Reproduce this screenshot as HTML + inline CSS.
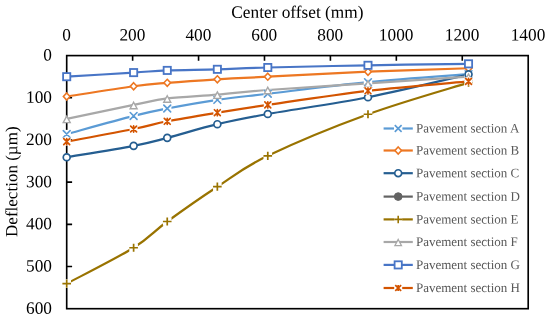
<!DOCTYPE html>
<html><head><meta charset="utf-8"><title>Deflection chart</title>
<style>html,body{margin:0;padding:0;background:#fff}body{width:550px;height:320px;overflow:hidden}</style></head>
<body>
<svg width="550" height="320" viewBox="0 0 550 320" style="display:block">
<rect width="550" height="320" fill="#fff"/>
<g stroke="#000" stroke-width="1.65" fill="none">
<rect x="66.7" y="55.6" width="461.5" height="253.1"/>
<path d="M132.63 55.6 v5.2 M198.56 55.6 v5.2 M264.49 55.6 v5.2 M330.41 55.6 v5.2 M396.34 55.6 v5.2 M462.27 55.6 v5.2 M66.7 97.78 h5.4 M66.7 139.97 h5.4 M66.7 182.15 h5.4 M66.7 224.33 h5.4 M66.7 266.52 h5.4" stroke-width="1.6"/>
</g>
<g fill="none" stroke-linecap="round" stroke-linejoin="round">
<path d="M66.7 134.06 C77.85 131.04 116.86 120.18 133.62 115.92 C150.37 111.67 153.29 111.21 167.24 108.54 C181.2 105.87 200.59 102.35 217.35 99.89 C234.1 97.43 242.67 96.73 267.78 93.78 C292.89 90.82 334.53 85.44 367.99 82.18 C401.45 78.91 451.78 75.5 468.53 74.16" stroke="#5B9BD5" stroke-width="2.2"/>
<path d="M66.7 96.52 C77.85 94.8 116.86 88.51 133.62 86.23 C150.37 83.94 153.29 83.96 167.24 82.81 C181.2 81.66 200.59 80.33 217.35 79.31 C234.1 78.29 242.67 77.96 267.78 76.69 C292.89 75.43 334.53 73.12 367.99 71.71 C401.45 70.31 451.78 68.83 468.53 68.25" stroke="#ED7722" stroke-width="2.2"/>
<path d="M66.7 157.26 C77.85 155.36 116.86 149.11 133.62 145.87 C150.37 142.64 153.29 141.47 167.24 137.86 C181.2 134.24 200.59 128.16 217.35 124.19 C234.1 120.22 242.67 118.52 267.78 114.02 C292.89 109.53 334.53 103.84 367.99 97.23 C401.45 90.63 451.78 78.18 468.53 74.37" stroke="#255E91" stroke-width="2.2"/>
<path d="M66.7 283.6 C77.85 277.62 116.86 258.09 133.62 247.75 C150.37 237.4 153.29 231.68 167.24 221.51 C181.2 211.33 200.59 197.66 217.35 186.71 C234.1 175.75 242.67 167.86 267.78 155.79 C292.89 143.71 334.53 126.43 367.99 114.23 C401.45 102.04 451.78 87.87 468.53 82.6" stroke="#997300" stroke-width="2.2"/>
<path d="M66.7 118.88 C77.85 116.55 116.86 108.36 133.62 104.95 C150.37 101.54 153.29 100.14 167.24 98.42 C181.2 96.69 200.59 96.03 217.35 94.62 C234.1 93.21 242.67 91.84 267.78 89.98 C292.89 88.12 334.53 85.66 367.99 83.44 C401.45 81.23 451.78 77.82 468.53 76.69" stroke="#A8A8A8" stroke-width="2.2"/>
<path d="M66.7 76.69 C77.85 76.01 116.86 73.65 133.62 72.6 C150.37 71.55 153.29 70.95 167.24 70.41 C181.2 69.86 200.59 69.79 217.35 69.31 C234.1 68.82 242.67 68.16 267.78 67.5 C292.89 66.83 334.53 65.91 367.99 65.3 C401.45 64.69 451.78 64.07 468.53 63.83" stroke="#4875C6" stroke-width="2.2"/>
<path d="M66.7 141.65 C77.85 139.54 116.86 132.39 133.62 129 C150.37 125.6 153.29 123.99 167.24 121.28 C181.2 118.57 200.59 115.45 217.35 112.72 C234.1 109.98 242.67 108.52 267.78 104.87 C292.89 101.22 334.53 94.75 367.99 90.82 C401.45 86.9 451.78 82.91 468.53 81.33" stroke="#D35400" stroke-width="2.2"/>
<g><rect x="62.5" y="129.86" width="8.4" height="8.4" fill="#fff"/><path d="M63.3 130.66 L70.1 137.46 M63.3 137.46 L70.1 130.66" stroke="#5B9BD5" stroke-width="1.65" fill="none"/><rect x="129.42" y="111.72" width="8.4" height="8.4" fill="#fff"/><path d="M130.22 112.52 L137.02 119.32 M130.22 119.32 L137.02 112.52" stroke="#5B9BD5" stroke-width="1.65" fill="none"/><rect x="163.04" y="104.34" width="8.4" height="8.4" fill="#fff"/><path d="M163.84 105.14 L170.64 111.94 M163.84 111.94 L170.64 105.14" stroke="#5B9BD5" stroke-width="1.65" fill="none"/><rect x="213.15" y="95.69" width="8.4" height="8.4" fill="#fff"/><path d="M213.95 96.49 L220.75 103.29 M213.95 103.29 L220.75 96.49" stroke="#5B9BD5" stroke-width="1.65" fill="none"/><rect x="263.58" y="89.58" width="8.4" height="8.4" fill="#fff"/><path d="M264.38 90.38 L271.18 97.18 M264.38 97.18 L271.18 90.38" stroke="#5B9BD5" stroke-width="1.65" fill="none"/><rect x="363.79" y="77.98" width="8.4" height="8.4" fill="#fff"/><path d="M364.59 78.78 L371.39 85.58 M364.59 85.58 L371.39 78.78" stroke="#5B9BD5" stroke-width="1.65" fill="none"/><rect x="464.33" y="69.96" width="8.4" height="8.4" fill="#fff"/><path d="M465.13 70.76 L471.93 77.56 M465.13 77.56 L471.93 70.76" stroke="#5B9BD5" stroke-width="1.65" fill="none"/></g>
<g><path d="M66.7 93.02 L70 96.52 L66.7 100.02 L63.4 96.52Z" stroke="#ED7722" stroke-width="1.6" stroke-linejoin="miter" fill="#fff"/><path d="M133.62 82.73 L136.92 86.23 L133.62 89.73 L130.32 86.23Z" stroke="#ED7722" stroke-width="1.6" stroke-linejoin="miter" fill="#fff"/><path d="M167.24 79.31 L170.54 82.81 L167.24 86.31 L163.94 82.81Z" stroke="#ED7722" stroke-width="1.6" stroke-linejoin="miter" fill="#fff"/><path d="M217.35 75.81 L220.65 79.31 L217.35 82.81 L214.05 79.31Z" stroke="#ED7722" stroke-width="1.6" stroke-linejoin="miter" fill="#fff"/><path d="M267.78 73.19 L271.08 76.69 L267.78 80.19 L264.48 76.69Z" stroke="#ED7722" stroke-width="1.6" stroke-linejoin="miter" fill="#fff"/><path d="M367.99 68.21 L371.29 71.71 L367.99 75.21 L364.69 71.71Z" stroke="#ED7722" stroke-width="1.6" stroke-linejoin="miter" fill="#fff"/><path d="M468.53 64.75 L471.83 68.25 L468.53 71.75 L465.23 68.25Z" stroke="#ED7722" stroke-width="1.6" stroke-linejoin="miter" fill="#fff"/></g>
<g><circle cx="66.7" cy="157.26" r="3.45" stroke="#255E91" stroke-width="1.7" fill="#fff"/><circle cx="133.62" cy="145.87" r="3.45" stroke="#255E91" stroke-width="1.7" fill="#fff"/><circle cx="167.24" cy="137.86" r="3.45" stroke="#255E91" stroke-width="1.7" fill="#fff"/><circle cx="217.35" cy="124.19" r="3.45" stroke="#255E91" stroke-width="1.7" fill="#fff"/><circle cx="267.78" cy="114.02" r="3.45" stroke="#255E91" stroke-width="1.7" fill="#fff"/><circle cx="367.99" cy="97.23" r="3.45" stroke="#255E91" stroke-width="1.7" fill="#fff"/><circle cx="468.53" cy="74.37" r="3.45" stroke="#255E91" stroke-width="1.7" fill="#fff"/></g>
<g><rect x="62.4" y="279.3" width="8.6" height="8.6" fill="#fff"/><path d="M62.4 283.6 L71 283.6 M66.7 279.5 L66.7 287.7" stroke="#997300" stroke-width="1.7" fill="none" stroke-linecap="butt"/><rect x="129.32" y="243.45" width="8.6" height="8.6" fill="#fff"/><path d="M129.32 247.75 L137.92 247.75 M133.62 243.65 L133.62 251.85" stroke="#997300" stroke-width="1.7" fill="none" stroke-linecap="butt"/><rect x="162.94" y="217.21" width="8.6" height="8.6" fill="#fff"/><path d="M162.94 221.51 L171.54 221.51 M167.24 217.41 L167.24 225.61" stroke="#997300" stroke-width="1.7" fill="none" stroke-linecap="butt"/><rect x="213.05" y="182.41" width="8.6" height="8.6" fill="#fff"/><path d="M213.05 186.71 L221.65 186.71 M217.35 182.61 L217.35 190.81" stroke="#997300" stroke-width="1.7" fill="none" stroke-linecap="butt"/><rect x="263.48" y="151.49" width="8.6" height="8.6" fill="#fff"/><path d="M263.48 155.79 L272.08 155.79 M267.78 151.69 L267.78 159.89" stroke="#997300" stroke-width="1.7" fill="none" stroke-linecap="butt"/><rect x="363.69" y="109.93" width="8.6" height="8.6" fill="#fff"/><path d="M363.69 114.23 L372.29 114.23 M367.99 110.13 L367.99 118.33" stroke="#997300" stroke-width="1.7" fill="none" stroke-linecap="butt"/><rect x="464.23" y="78.3" width="8.6" height="8.6" fill="#fff"/><path d="M464.23 82.6 L472.83 82.6 M468.53 78.5 L468.53 86.7" stroke="#997300" stroke-width="1.7" fill="none" stroke-linecap="butt"/></g>
<g><path d="M66.7 116.17 L70.2 122.67 L63.2 122.67Z" stroke="#A8A8A8" stroke-width="1.4" stroke-linejoin="miter" fill="#fff"/><path d="M133.62 102.25 L137.12 108.75 L130.12 108.75Z" stroke="#A8A8A8" stroke-width="1.4" stroke-linejoin="miter" fill="#fff"/><path d="M167.24 95.72 L170.74 102.22 L163.74 102.22Z" stroke="#A8A8A8" stroke-width="1.4" stroke-linejoin="miter" fill="#fff"/><path d="M217.35 91.92 L220.85 98.42 L213.85 98.42Z" stroke="#A8A8A8" stroke-width="1.4" stroke-linejoin="miter" fill="#fff"/><path d="M267.78 87.28 L271.28 93.78 L264.28 93.78Z" stroke="#A8A8A8" stroke-width="1.4" stroke-linejoin="miter" fill="#fff"/><path d="M367.99 80.74 L371.49 87.24 L364.49 87.24Z" stroke="#A8A8A8" stroke-width="1.4" stroke-linejoin="miter" fill="#fff"/><path d="M468.53 73.99 L472.03 80.49 L465.03 80.49Z" stroke="#A8A8A8" stroke-width="1.4" stroke-linejoin="miter" fill="#fff"/></g>
<g><rect x="63.1" y="73.09" width="7.2" height="7.2" stroke="#4875C6" stroke-width="1.8" stroke-linejoin="miter" fill="#fff"/><rect x="130.02" y="69" width="7.2" height="7.2" stroke="#4875C6" stroke-width="1.8" stroke-linejoin="miter" fill="#fff"/><rect x="163.64" y="66.81" width="7.2" height="7.2" stroke="#4875C6" stroke-width="1.8" stroke-linejoin="miter" fill="#fff"/><rect x="213.75" y="65.71" width="7.2" height="7.2" stroke="#4875C6" stroke-width="1.8" stroke-linejoin="miter" fill="#fff"/><rect x="264.18" y="63.9" width="7.2" height="7.2" stroke="#4875C6" stroke-width="1.8" stroke-linejoin="miter" fill="#fff"/><rect x="364.39" y="61.7" width="7.2" height="7.2" stroke="#4875C6" stroke-width="1.8" stroke-linejoin="miter" fill="#fff"/><rect x="464.93" y="60.23" width="7.2" height="7.2" stroke="#4875C6" stroke-width="1.8" stroke-linejoin="miter" fill="#fff"/></g>
<g><rect x="62.7" y="137.65" width="8" height="8" fill="#fff"/><path d="M63.75 138.7 L69.65 144.6 M63.75 144.6 L69.65 138.7 M66.7 138.6 L66.7 144.7" stroke="#D35400" stroke-width="1.7" fill="none"/><rect x="129.62" y="125" width="8" height="8" fill="#fff"/><path d="M130.67 126.05 L136.57 131.95 M130.67 131.95 L136.57 126.05 M133.62 125.95 L133.62 132.05" stroke="#D35400" stroke-width="1.7" fill="none"/><rect x="163.24" y="117.28" width="8" height="8" fill="#fff"/><path d="M164.29 118.33 L170.19 124.23 M164.29 124.23 L170.19 118.33 M167.24 118.23 L167.24 124.33" stroke="#D35400" stroke-width="1.7" fill="none"/><rect x="213.35" y="108.72" width="8" height="8" fill="#fff"/><path d="M214.4 109.77 L220.3 115.67 M214.4 115.67 L220.3 109.77 M217.35 109.67 L217.35 115.77" stroke="#D35400" stroke-width="1.7" fill="none"/><rect x="263.78" y="100.87" width="8" height="8" fill="#fff"/><path d="M264.83 101.92 L270.73 107.82 M264.83 107.82 L270.73 101.92 M267.78 101.82 L267.78 107.92" stroke="#D35400" stroke-width="1.7" fill="none"/><rect x="363.99" y="86.82" width="8" height="8" fill="#fff"/><path d="M365.04 87.87 L370.94 93.77 M365.04 93.77 L370.94 87.87 M367.99 87.77 L367.99 93.87" stroke="#D35400" stroke-width="1.7" fill="none"/><rect x="464.53" y="77.33" width="8" height="8" fill="#fff"/><path d="M465.58 78.38 L471.48 84.28 M465.58 84.28 L471.48 78.38 M468.53 78.28 L468.53 84.38" stroke="#D35400" stroke-width="1.7" fill="none"/></g>
</g>
<g font-family="'Liberation Serif', 'Times New Roman', serif" text-rendering="geometricPrecision" font-size="17.3" fill="#000">
<text transform="translate(297.4 17.8) rotate(0.03)" text-anchor="middle">Center offset (mm)</text>
<text transform="translate(66.5 40.5) rotate(0.03)" text-anchor="middle">0</text>
<text transform="translate(132.43 40.5) rotate(0.03)" text-anchor="middle">200</text>
<text transform="translate(198.36 40.5) rotate(0.03)" text-anchor="middle">400</text>
<text transform="translate(264.29 40.5) rotate(0.03)" text-anchor="middle">600</text>
<text transform="translate(330.21 40.5) rotate(0.03)" text-anchor="middle">800</text>
<text transform="translate(396.14 40.5) rotate(0.03)" text-anchor="middle">1000</text>
<text transform="translate(462.07 40.5) rotate(0.03)" text-anchor="middle">1200</text>
<text transform="translate(528 40.5) rotate(0.03)" text-anchor="middle">1400</text>
<text transform="translate(52 60.6) rotate(0.03)" text-anchor="end">0</text>
<text transform="translate(52 102.78) rotate(0.03)" text-anchor="end">100</text>
<text transform="translate(52 144.97) rotate(0.03)" text-anchor="end">200</text>
<text transform="translate(52 187.15) rotate(0.03)" text-anchor="end">300</text>
<text transform="translate(52 229.33) rotate(0.03)" text-anchor="end">400</text>
<text transform="translate(52 271.52) rotate(0.03)" text-anchor="end">500</text>
<text transform="translate(52 313.7) rotate(0.03)" text-anchor="end">600</text>
<text font-size="17.05" transform="translate(17.3 181.7) rotate(-90.03)" text-anchor="middle">Deflection (µm)</text>
</g>
<g font-family="'Liberation Serif', 'Times New Roman', serif" text-rendering="geometricPrecision" font-size="13.03" fill="#595959">
<path d="M383.6 128.5 H412.8" stroke="#5B9BD5" stroke-width="2.2" fill="none"/>
<g transform="translate(398.2 128.5) scale(1.0)"><rect x="-4.2" y="-4.2" width="8.4" height="8.4" fill="#fff"/><path d="M-3.4 -3.4 L3.4 3.4 M-3.4 3.4 L3.4 -3.4" stroke="#5B9BD5" stroke-width="1.65" fill="none"/></g>
<text transform="translate(415.9 132.5) rotate(0.03)" text-anchor="start">Pavement section A</text>
<path d="M383.6 150.5 H412.8" stroke="#ED7722" stroke-width="2.2" fill="none"/>
<g transform="translate(398.2 150.5) scale(1.0)"><path d="M0 -3.5 L3.3 0 L0 3.5 L-3.3 0Z" stroke="#ED7722" stroke-width="1.6" stroke-linejoin="miter" fill="#fff"/></g>
<text transform="translate(415.9 154.5) rotate(0.03)" text-anchor="start">Pavement section B</text>
<path d="M383.6 173.2 H412.8" stroke="#255E91" stroke-width="2.2" fill="none"/>
<g transform="translate(398.2 173.2) scale(1.0)"><circle cx="0" cy="0" r="3.45" stroke="#255E91" stroke-width="1.7" fill="#fff"/></g>
<text transform="translate(415.9 177.2) rotate(0.03)" text-anchor="start">Pavement section C</text>
<path d="M383.6 196.6 H412.8" stroke="#636363" stroke-width="2.2" fill="none"/>
<g transform="translate(398.2 196.6) scale(1.0)"><circle cx="0" cy="0" r="3.85" stroke="#636363" stroke-width="1" fill="#636363"/></g>
<text transform="translate(415.9 200.6) rotate(0.03)" text-anchor="start">Pavement section D</text>
<path d="M383.6 219.4 H412.8" stroke="#997300" stroke-width="2.2" fill="none"/>
<g transform="translate(398.2 219.4) scale(0.92)"><rect x="-4.3" y="-4.3" width="8.6" height="8.6" fill="#fff"/><path d="M-4.3 0 L4.3 0 M0 -4.1 L0 4.1" stroke="#997300" stroke-width="1.7" fill="none" stroke-linecap="butt"/></g>
<text transform="translate(415.9 223.4) rotate(0.03)" text-anchor="start">Pavement section E</text>
<path d="M383.6 242 H412.8" stroke="#A8A8A8" stroke-width="2.2" fill="none"/>
<g transform="translate(398.2 242) scale(0.93)"><path d="M0 -2.7 L3.5 3.8 L-3.5 3.8Z" stroke="#A8A8A8" stroke-width="1.4" stroke-linejoin="miter" fill="#fff"/></g>
<text transform="translate(415.9 246) rotate(0.03)" text-anchor="start">Pavement section F</text>
<path d="M383.6 264.9 H412.8" stroke="#4875C6" stroke-width="2.2" fill="none"/>
<g transform="translate(398.2 264.9) scale(1.0)"><rect x="-3.6" y="-3.6" width="7.2" height="7.2" stroke="#4875C6" stroke-width="1.8" stroke-linejoin="miter" fill="#fff"/></g>
<text transform="translate(415.9 268.9) rotate(0.03)" text-anchor="start">Pavement section G</text>
<path d="M383.6 288 H412.8" stroke="#D35400" stroke-width="2.2" fill="none"/>
<g transform="translate(398.2 288) scale(1.0)"><rect x="-4" y="-4" width="8" height="8" fill="#fff"/><path d="M-2.95 -2.95 L2.95 2.95 M-2.95 2.95 L2.95 -2.95 M0 -3.05 L0 3.05" stroke="#D35400" stroke-width="1.7" fill="none"/></g>
<text transform="translate(415.9 292) rotate(0.03)" text-anchor="start">Pavement section H</text>
</g>
</svg>
</body></html>
